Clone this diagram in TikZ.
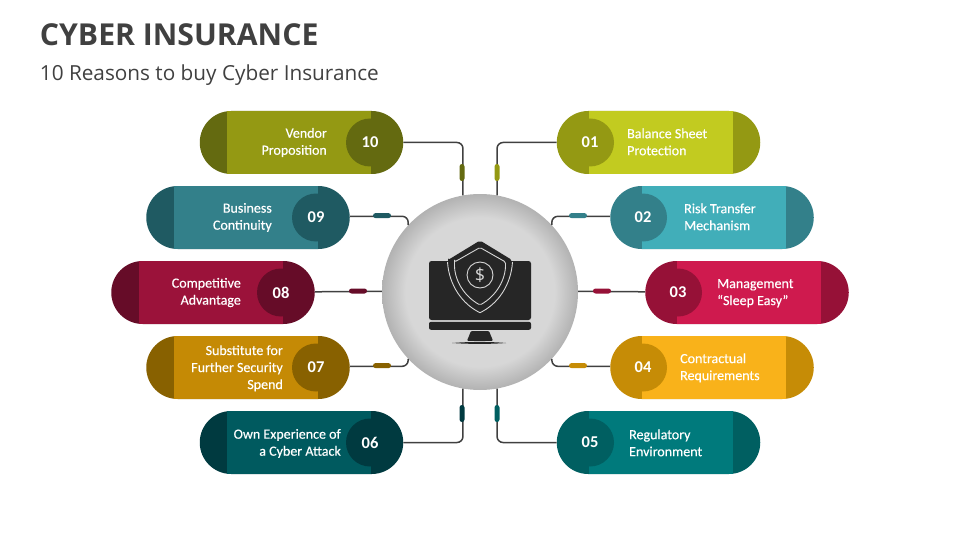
\documentclass[tikz,border=0pt]{standalone}
\usepackage{fontspec}
\setmainfont{Carlito}
\newfontfamily\titlefont{Open Sans}
\newfontfamily\pillfont[FakeBold=0.35]{Carlito}
\usetikzlibrary{shapes.misc}
\definecolor{hubin}{HTML}{D7D7D7}
\definecolor{hubout}{HTML}{B2B2B2}
\pgfdeclareradialshading{hubshade}{\pgfpoint{0bp}{0bp}}{color(0bp)=(hubin); color(19bp)=(hubin); color(25bp)=(hubout); color(100bp)=(hubout)}
\definecolor{ink}{HTML}{262626}
\definecolor{wire}{HTML}{404040}
\definecolor{titleink}{HTML}{404040}
\definecolor{da}{HTML}{949913}\definecolor{la}{HTML}{C2CB20}
\definecolor{db}{HTML}{33808A}\definecolor{lb}{HTML}{41AEB9}
\definecolor{dc}{HTML}{961137}\definecolor{lc}{HTML}{CF1A4E}
\definecolor{dd}{HTML}{C68C06}\definecolor{ld}{HTML}{F9B21A}
\definecolor{de}{HTML}{005F61}\definecolor{le}{HTML}{007A7C}
\definecolor{df}{HTML}{003A40}\definecolor{lf}{HTML}{005A5F}
\definecolor{dg}{HTML}{886100}\definecolor{lg}{HTML}{C58A05}
\definecolor{dh}{HTML}{660C28}\definecolor{lh}{HTML}{9B123A}
\definecolor{di}{HTML}{1F5A62}\definecolor{li}{HTML}{33808A}
\definecolor{dj}{HTML}{646A10}\definecolor{lj}{HTML}{949913}
\tikzset{
  pillbox/.style={rounded rectangle,minimum width=203.5,minimum height=63,inner sep=0,fill=#1},
  bandbox/.style={rectangle,minimum width=144,minimum height=63,inner sep=0,fill=#1},
  numdisc/.style={circle,minimum size=48,inner sep=0,fill=#1,text=white,font=\fontsize{16.5}{18}\selectfont\bfseries},
  lefttext/.style={anchor=west,align=left,text=white,inner sep=0,yshift=0.6pt,font=\pillfont\fontsize{14}{17}\selectfont},
  righttext/.style={anchor=east,align=right,text=white,inner sep=0,yshift=0pt,font=\pillfont\fontsize{14}{17}\selectfont},
  wirepath/.style={draw=wire,line width=1.5,rounded corners=6},
  hpin/.style={rounded rectangle,minimum width=18,minimum height=5,inner sep=0,fill=#1},
  vpin/.style={rounded rectangle,rotate=90,minimum width=17,minimum height=5,inner sep=0,fill=#1},
}
\begin{document}
\begin{tikzpicture}[x=1pt,y=-1pt]
\useasboundingbox (0,0) rectangle (960,540);
\node[anchor=west,inner sep=0,text=titleink,font=\titlefont\fontsize{30.2}{34}\selectfont\bfseries] (title) at (39.7,35) {CYBER INSURANCE};
\node[anchor=west,inner sep=0,text=titleink,font=\titlefont\fontsize{20.75}{24}\selectfont] (subtitle) at (39.7,75) {10 Reasons to buy Cyber Insurance};

% hub
\node[circle,minimum size=196,inner sep=0,shading=hubshade] (hub) at (480,292) {};

\begin{scope}[yshift=-0.5pt]
% right pills
\node[pillbox=da] (p01) at (658.5,142) {}; \node[bandbox=la] (b01) at (661,142) {}; \node[numdisc=da] (n01) at (590,142) {01};
\node[lefttext] (t01) at (627,142) {Balance Sheet\\Protection};
\node[pillbox=db] (p02) at (712,217) {}; \node[bandbox=lb] (b02) at (714,217) {}; \node[numdisc=db] (n02) at (643,217) {02};
\node[lefttext] (t02) at (684,217) {Risk Transfer\\Mechanism};
\node[pillbox=dc] (p03) at (747,292) {}; \node[bandbox=lc] (b03) at (749,292) {}; \node[numdisc=dc] (n03) at (678,292) {03};
\node[lefttext] (t03) at (717,293.3) {Management\\“Sleep Easy”};
\node[pillbox=dd] (p04) at (712,367) {}; \node[bandbox=ld] (b04) at (714,367) {}; \node[numdisc=dd] (n04) at (643,367) {04};
\node[lefttext] (t04) at (680,368) {Contractual\\Requirements};
\node[pillbox=de] (p05) at (658.5,442) {}; \node[bandbox=le] (b05) at (661,442) {}; \node[numdisc=de] (n05) at (590,442) {05};
\node[lefttext] (t05) at (629,443) {Regulatory\\Environment};

% left pills
\node[pillbox=dj] (p10) at (301.5,142) {}; \node[bandbox=lj] (b10) at (299,142) {}; \node[numdisc=dj] (n10) at (370,142) {10};
\node[righttext] (t10) at (327,142) {Vendor\\Proposition};
\node[pillbox=di] (p09) at (248,217) {}; \node[bandbox=li] (b09) at (246,217) {}; \node[numdisc=di] (n09) at (316,217) {09};
\node[righttext] (t09) at (272,217) {Business\\Continuity};
\node[pillbox=dh] (p08) at (213,292) {}; \node[bandbox=lh] (b08) at (211,292) {}; \node[numdisc=dh] (n08) at (281,292) {08};
\node[righttext] (t08) at (241,292) {Competitive\\Advantage};
\node[pillbox=dg] (p07) at (248,367) {}; \node[bandbox=lg] (b07) at (246,367) {}; \node[numdisc=dg] (n07) at (316,367) {07};
\node[righttext] (t07) at (283,367.8) {Substitute for\\Further Security\\Spend};
\node[pillbox=df] (p06) at (301.5,442) {}; \node[bandbox=lf] (b06) at (299,442) {}; \node[numdisc=df] (n06) at (370,442) {06};
\node[righttext] (t06) at (341,443) {Own Experience of\\a Cyber Attack};
\end{scope}

% connectors
\draw[wirepath] (p01.west) -| (hub.80);
\draw[wirepath] ([yshift=1.2pt]p02.west) -| (hub.43);
\draw[wirepath] ([yshift=0.7pt]p03.west) -- ([yshift=0.7pt]hub.0);
\draw[wirepath] ([yshift=1.2pt]p04.west) -| (hub.-43);
\draw[wirepath] (p05.west) -| (hub.-80);
\draw[wirepath] (p10.east) -| (hub.100);
\draw[wirepath] ([yshift=1.2pt]p09.east) -| (hub.137);
\draw[wirepath] ([yshift=0.7pt]p08.east) -- ([yshift=0.7pt]hub.180);
\draw[wirepath] ([yshift=1.2pt]p07.east) -| (hub.-137);
\draw[wirepath] (p06.east) -| (hub.-100);

% pins
\node[vpin=da] (q01) at (497,172.5) {};
\node[hpin=db] (q02) at (578,215.6) {};
\node[hpin=dc] (q03) at (602,291) {};
\node[hpin=dd] (q04) at (578,365.6) {};
\node[vpin=de] (q05) at (497,413.5) {};
\node[vpin=dj] (q10) at (462,172.5) {};
\node[hpin=di] (q09) at (382,215.6) {};
\node[hpin=dh] (q08) at (358,291) {};
\node[hpin=dg] (q07) at (382,365.6) {};
\node[vpin=df] (q06) at (462,413.5) {};

% icon
\fill[ink,rounded corners=2.5] (429,261) rectangle (531,320);
\fill[ink,rounded corners=2] (429,321.8) rectangle (531,329.8);
\fill[ink,rounded corners=1] (471,331) -- (489,331) -- (493,340.8) -- (467,340.8) -- cycle;
\fill[ink] (452,343) .. controls (470,341.6) and (490,341.6) .. (506,343) .. controls (490,344.2) and (470,344.2) .. (452,343) -- cycle;
\fill[ink,rounded corners=2] (448,260) -- (480,240.5) -- (512,260) .. controls (511,285) and (498,304) .. (480,312.7) .. controls (462,304) and (449,285) .. (448,260) -- cycle;
\draw[hubin,line width=0.9] (447.5,262) .. controls (449,285) and (462,304) .. (480,312.7) .. controls (498,304) and (511,285) .. (512.5,262);
\draw[hubin,line width=0.9,rounded corners=1.5] (454.5,262) -- (480,247.5) -- (505.5,262) .. controls (506,280) and (496,296) .. (480,305) .. controls (464,296) and (454,280) .. (454.5,262) -- cycle;
\node[circle,draw=hubin,line width=0.9,minimum size=26,inner sep=0,text=hubin,font=\titlefont\fontsize{18}{20}\selectfont] (dollar) at (480,275) {\$};
\end{tikzpicture}
\end{document}
